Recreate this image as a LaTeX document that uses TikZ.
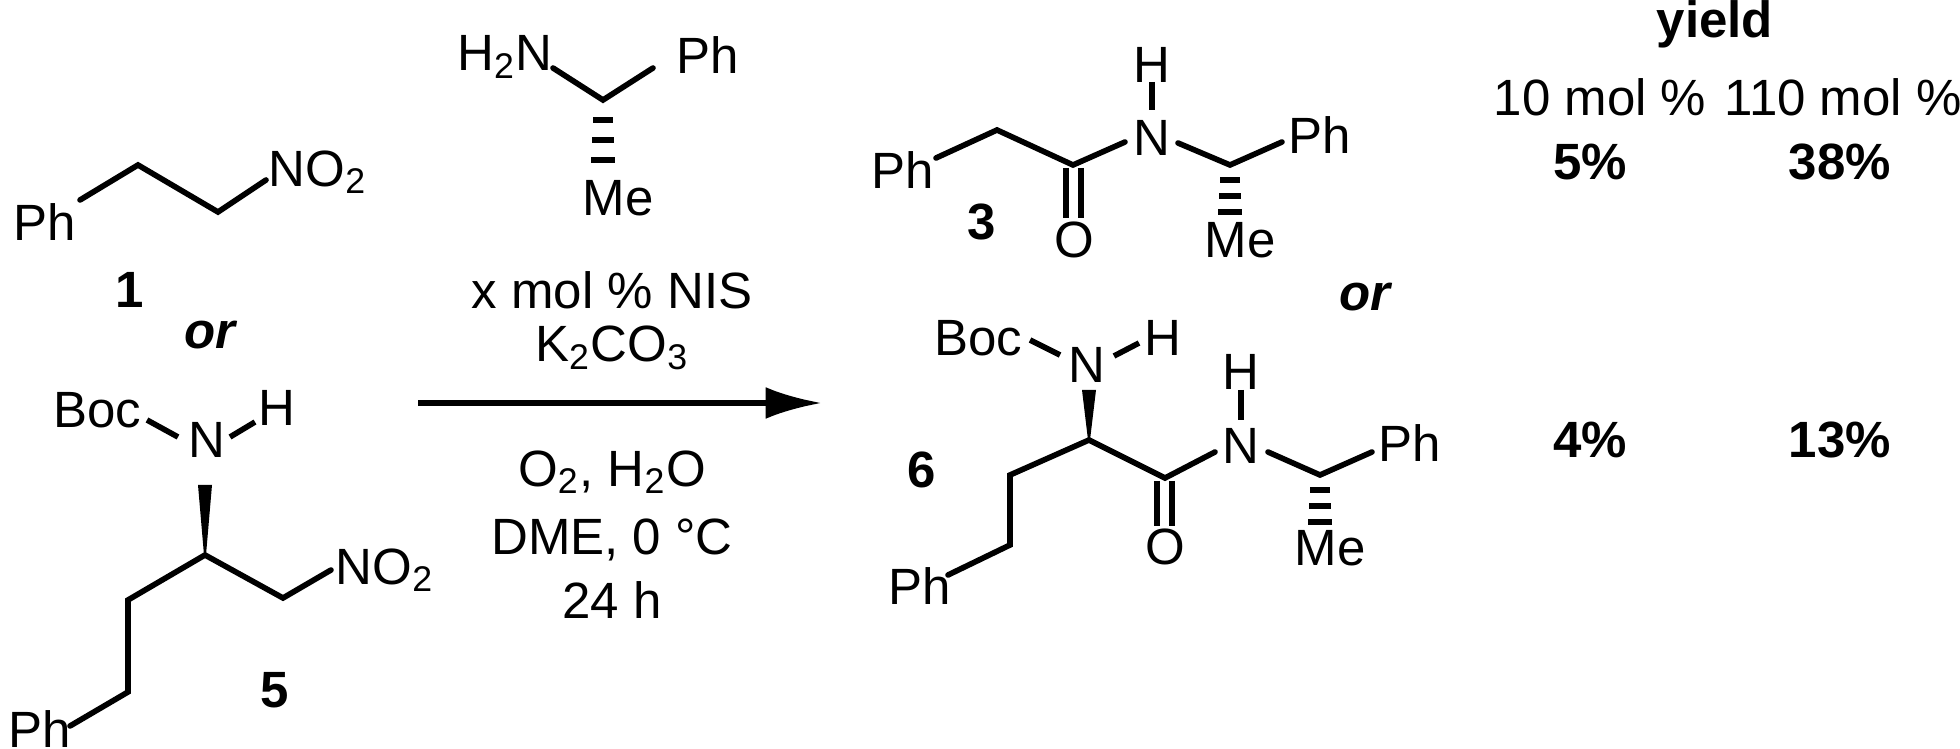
\documentclass[tikz,border=0pt]{standalone}
\usepackage{fontspec}
\usetikzlibrary{arrows.meta}
\setmainfont{Liberation Sans}
\newcommand{\sbs}[1]{\textsubscript{#1}}
\begin{document}
\begin{tikzpicture}[x=0.01cm,y=-0.01cm,line width=1.6pt,
  lbl/.style={inner sep=1pt,font=\fontsize{14.5}{16}\selectfont},
  num/.style={inner sep=1pt,font=\fontsize{14.5}{16}\selectfont\bfseries},
  bnd/.style={line cap=round},
  hashb/.style={line width=1.5pt}]
\useasboundingbox (0,0) rectangle (1960,749);
% compound 1
\node[lbl] (ph1) at (45,222) {Ph};
\node[lbl] (no1) at (318,172) {NO\sbs{2}};
\coordinate (a1) at (138,165); \coordinate (a2) at (218,212);
\draw[bnd] (80,200) -- (a1) -- (a2) -- (266,180);
\node[num] (n1) at (130,290) {1};
\node[num] (or1) at (210,335) {\itshape or};
% compound 5
\node[lbl] (boc5) at (97,410) {Boc};
\node[lbl] (N5) at (207,440) {N};
\node[lbl] (H5) at (277,408) {H};
\draw (147,420) -- (178,437);
\draw (230,437) -- (255,422);
\coordinate (c5) at (205,555);
\fill (198,485) -- (212,485) -- (206,555) -- (204,555) -- cycle;
\draw[bnd] (70,726) -- (128,692) -- (128,600) -- (c5) -- (283,598) -- (331,570);
\node[lbl] (ph5) at (40,729) {Ph};
\node[lbl] (no5) at (385,570) {NO\sbs{2}};
\node[num] (n5) at (275,690) {5};
% reagent amine
\node[lbl] (h2n) at (505,57) {H\sbs{2}N};
\node[lbl] (phr) at (708,55) {Ph};
\coordinate (cr) at (603,100);
\draw[bnd] (553,68) -- (cr) -- (653,68);
\foreach \yy/\ww in {120/10,140/11,160/12}{\draw[hashb] (603-\ww,\yy) -- (603+\ww,\yy);}
\node[lbl] (mer) at (618,198) {Me};
\node[lbl] (nis) at (612,290) {x mol \% NIS};
\node[lbl] (k2) at (612,348) {K\sbs{2}CO\sbs{3}};
\coordinate (arS) at (418,403); \coordinate (arE) at (822,403);
\draw[-{Latex[length=16pt,width=9pt]}] (arS) -- (arE);
\node[lbl] (o2) at (612,472) {O\sbs{2}, H\sbs{2}O};
\node[lbl] (dme) at (612,540) {DME, 0 °C};
\node[lbl] (t24) at (612,600) {24 h};
% compound 3
\node[lbl] (ph3) at (903,170) {Ph};
\coordinate (c3) at (1073,165);
\draw[bnd] (936,158) -- (997,130) -- (c3) -- (1125,142);
\node[lbl] (N3) at (1152,138) {N};
\node[lbl] (H3) at (1152,65) {H};
\draw (1152,82) -- (1152,110);
\draw (1066,168) -- (1066,218); \draw (1081,168) -- (1081,218);
\node[lbl] (O3) at (1074,240) {O};
\coordinate (d3) at (1230,165);
\draw[bnd] (1178,143) -- (d3) -- (1282,142);
\node[lbl] (phb3) at (1320,135) {Ph};
\foreach \yy/\ww in {180/10,196/11,212/12}{\draw[hashb] (1230-\ww,\yy) -- (1230+\ww,\yy);}
\node[lbl] (me3) at (1240,240) {Me};
\node[num] (n3) at (982,222) {3};
\node[num] (or2) at (1365,297) {\itshape or};
% compound 6
\node[lbl] (boc6) at (978,338) {Boc};
\node[lbl] (N6) at (1087,365) {N};
\node[lbl] (H6) at (1163,338) {H};
\draw (1030,340) -- (1060,355);
\draw (1114,356) -- (1139,343);
\fill (1082,390) -- (1096,390) -- (1090,440) -- (1088,440) -- cycle;
\coordinate (c6) at (1089,440); \coordinate (k6) at (1165,478);
\draw[bnd] (948,575) -- (1010,545) -- (1010,475) -- (c6) -- (k6) -- (1215,452);
\node[lbl] (ph6) at (920,586) {Ph};
\node[lbl] (N6b) at (1241,446) {N};
\node[lbl] (H6b) at (1241,372) {H};
\draw (1241,390) -- (1241,420);
\draw (1157,481) -- (1157,526); \draw (1172,481) -- (1172,526);
\node[lbl] (O6) at (1165,547) {O};
\coordinate (d6) at (1320,475);
\draw[bnd] (1268,452) -- (d6) -- (1372,452);
\node[lbl] (phb6) at (1410,443) {Ph};
\foreach \yy/\ww in {490/10,506/11,522/12}{\draw[hashb] (1320-\ww,\yy) -- (1320+\ww,\yy);}
\node[lbl] (me6) at (1330,548) {Me};
\node[num] (n6) at (922,470) {6};
% yields
\node[num] (yl) at (1715,24) {yield};
\node[lbl] (m10) at (1600,97) {10 mol \%};
\node[lbl] (m110) at (1843,97) {110 mol \%};
\node[num] (y1) at (1590,162) {5\%};
\node[num] (y2) at (1840,162) {38\%};
\node[num] (y3) at (1590,440) {4\%};
\node[num] (y4) at (1840,440) {13\%};
\end{tikzpicture}
\end{document}
